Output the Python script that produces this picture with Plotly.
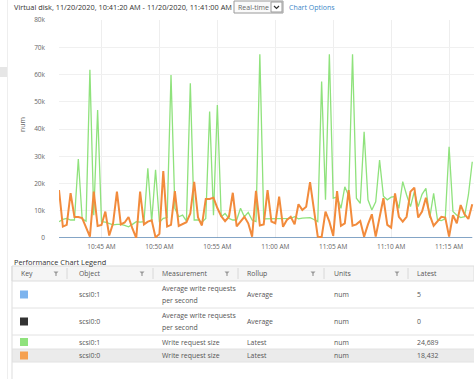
import pandas as pd
import plotly.graph_objects as go

# ---------------- data ----------------
START = "2020-11-20 10:41:20"
STEP = "20s"

# scsi0:0 Write request size (orange), values in thousands of num
orange_k = [17.6, 4.2, 4.8, 16.5, 7.7, 7.7, 7.3, 4.0, 0.5, 17.0,
            4.4, 4.8, 9.7, 0.9, 5.4, 17.0, 5.0, 5.7, 7.7, 3.5,
            0.0, 17.0, 5.0, 6.0, 6.5, 0.2, 1.5, 24.6, 4.2, 4.8,
            17.2, 4.4, 5.2, 5.8, 9.0, 20.6, 7.5, 4.6, 14.3, 14.3,
            14.8, 11.0, 8.0, 6.2, 7.8, 16.6, 4.3, 6.2, 7.8, 5.4,
            0.5, 17.3, 4.6, 5.0, 17.6, 6.0, 5.4, 15.2, 4.1, 6.6,
            7.8, 5.0, 12.4, 10.3, 11.5, 20.5, 9.7, 0.5, 0.3, 9.7,
            6.0, 0.8, 17.2, 4.5, 5.4, 17.6, 4.5, 5.0, 6.2, 0.5,
            5.0, 8.7, 0.5, 7.2, 14.6, 4.8, 3.8, 16.4, 7.8, 6.0,
            7.8, 17.0, 18.5, 7.5, 9.7, 14.8, 8.4, 4.5, 6.0, 7.8,
            7.5, 0.5, 8.4, 5.4, 12.1, 8.7, 7.0, 12.4]

# scsi0:1 Write request size (green), thousands
green_k = [6.0, 6.8, 7.2, 6.6, 6.6, 29.0, 7.0, 6.2, 61.7, 8.4,
           47.0, 6.0, 5.8, 5.4, 4.8, 5.0, 5.0, 4.6, 4.1, 5.0,
           6.0, 5.8, 6.0, 25.6, 6.0, 25.0, 5.8, 7.2, 7.5, 59.8,
           10.9, 7.8, 8.4, 6.2, 56.8, 6.6, 6.6, 5.8, 7.2, 46.4,
           8.4, 48.8, 7.8, 9.0, 7.2, 6.6, 6.6, 10.9, 7.8, 9.4,
           6.6, 6.0, 67.4, 7.0, 7.0, 7.0, 7.0, 7.0, 7.0, 7.0,
           7.2, 7.8, 7.0, 7.3, 7.5, 7.5, 6.8, 6.0, 57.4, 14.0,
           67.4, 14.6, 15.0, 10.9, 18.8, 15.5, 67.4, 14.6, 12.7, 39.0,
           14.0, 10.3, 13.3, 28.6, 15.3, 14.0, 15.0, 15.2, 10.9, 20.7,
           15.8, 11.5, 17.0, 11.5, 16.0, 18.2, 7.5, 16.4, 6.6, 6.4,
           7.0, 33.5, 9.7, 8.4, 7.5, 7.8, 15.8, 28.0]

# scsi0:1 Average write requests per second (blue)
blue = [5, 4, 6, 5, 5, 6, 4, 5, 7, 5, 6, 4, 5, 5, 4, 6, 5, 5, 4, 5,
        5, 6, 4, 6, 5, 6, 5, 5, 4, 7, 5, 5, 4, 5, 7, 5, 5, 4, 5, 6,
        5, 6, 5, 5, 4, 5, 5, 5, 4, 5, 5, 4, 7, 5, 5, 4, 5, 5, 4, 5,
        5, 5, 5, 4, 5, 5, 5, 4, 7, 5, 7, 5, 5, 4, 5, 5, 7, 5, 5, 6,
        5, 4, 5, 6, 5, 5, 5, 5, 4, 6, 5, 5, 5, 4, 5, 5, 4, 5, 4, 5,
        5, 6, 5, 5, 4, 5, 5, 5]

# scsi0:0 Average write requests per second (dark)
dark = [0, 0, 0, 0, 0, 0, 0, 0, 0, 0, 0, 0, 0, 0, 0, 0, 0, 0, 0, 0,
        0, 0, 0, 0, 0, 0, 0, 0, 0, 0, 0, 0, 0, 0, 0, 0, 0, 0, 0, 0,
        0, 0, 0, 0, 0, 0, 0, 0, 0, 0, 0, 0, 0, 0, 0, 0, 0, 0, 0, 0,
        0, 0, 0, 0, 0, 0, 0, 0, 0, 0, 0, 0, 0, 0, 0, 0, 0, 0, 0, 0,
        0, 0, 0, 0, 0, 0, 0, 0, 0, 0, 0, 0, 0, 0, 0, 0, 0, 0, 0, 0,
        0, 0, 0, 0, 0, 0, 0, 0]

y_tickvals = [0, 10000, 20000, 30000, 40000, 50000, 60000, 70000, 80000]
y_ticktext = ["0", "10k", "20k", "30k", "40k", "50k", "60k", "70k", "80k"]
x_range = ["2020-11-20 10:41:20", "2020-11-20 11:17:09"]

title_text = "Virtual disk, 11/20/2020, 10:41:20 AM - 11/20/2020, 11:41:00 AM"
legend_title = "Performance Chart Legend"
col_headers = ["Key", "Object", "Measurement", "Rollup", "Units", "Latest"]
row_colors = ["#7db4ee", "#333333", "#8fe27c", "#f5a04f"]
row_objects = ["scsi0:1", "scsi0:0", "scsi0:1", "scsi0:0"]
row_measure = [["Average write requests", "per second"], ["Average write requests", "per second"],
               ["Write request size"], ["Write request size"]]
row_rollup = ["Average", "Average", "Latest", "Latest"]
row_units = ["num", "num", "num", "num"]
row_latest = ["5", "0", "24,689", "18,432"]

# ---------------- figure ----------------
W, H = 474, 379
PL, PR, PT, PB = 59, 474, 20, 238
FONT = "Open Sans"
TFS = 6.9


def px(x):
    return (x - PL) / (PR - PL)


def py(y):
    return (PB - y) / (PB - PT)


times = pd.date_range(START, periods=len(orange_k), freq=STEP)

fig = go.Figure()
fig.add_trace(go.Scatter(x=times, y=blue, mode="lines",
                         line=dict(color="#7db4ee", width=1.6), name="blue"))
fig.add_trace(go.Scatter(x=times, y=dark, mode="lines", opacity=0.45,
                         line=dict(color="#333333", width=1.2), name="dark"))
fig.add_trace(go.Scatter(x=times, y=[v * 1000 for v in green_k], mode="lines",
                         line=dict(color="#8fe27c", width=1.3), name="green"))
fig.add_trace(go.Scatter(x=times, y=[v * 1000 for v in orange_k], mode="lines",
                         line=dict(color="#f28b3c", width=2), name="orange"))

shapes = []
ann = []


def text(t, x, y, size=TFS, color="#555555", **kw):
    ann.append(dict(text=t, x=px(x), y=py(y), xref="paper", yref="paper",
                    xanchor=kw.pop("xanchor", "left"), yanchor="middle", showarrow=False,
                    font=dict(family=FONT, size=size, color=color), **kw))


# left page stub
shapes.append(dict(type="line", xref="paper", yref="paper", x0=px(7.5), x1=px(7.5),
                   y0=py(0), y1=py(379), line=dict(color="#eeeeee", width=1), layer="below"))
shapes.append(dict(type="rect", xref="paper", yref="paper", x0=px(0), x1=px(7),
                   y0=py(67), y1=py(77), fillcolor="#e6e6e6", line=dict(width=0), layer="below"))

# header text and controls
text(title_text, 12, 7, size=7.35, color="#333333")
shapes.append(dict(type="rect", xref="paper", yref="paper", x0=px(234), x1=px(283),
                   y0=py(1), y1=py(13), fillcolor="#fafafa", line=dict(color="#9a9a9a", width=1)))
shapes.append(dict(type="rect", xref="paper", yref="paper", x0=px(271), x1=px(282),
                   y0=py(2), y1=py(12), fillcolor="#ffffff", line=dict(color="#9a9a9a", width=1)))
shapes.append(dict(type="path", xref="paper", yref="paper",
                   path=f"M {px(274)} {py(6)} L {px(276.5)} {py(8.5)} L {px(279)} {py(6)}",
                   line=dict(color="#333333", width=1.2)))
text("Real-time", 236, 7, size=7, color="#666666")
text("Chart Options", 287, 7, size=7, color="#3c87c7")

# y-axis title
text("num", 22, 125, size=7, color="#666666", xanchor="center", textangle=-90)

# legend table
text(legend_title, 12, 262, size=7.35, color="#333333")

col_x = [12, 67, 153, 238, 324, 408]
col_text_x = [19, 77, 160, 245, 332, 415]
head_top, head_bot = 266, 281
row_bounds = [(281, 308), (308, 335), (335, 349), (349, 362)]

shapes.append(dict(type="rect", xref="paper", yref="paper", x0=px(12), x1=px(474),
                   y0=py(head_top), y1=py(head_bot), fillcolor="#f5f5f5",
                   line=dict(color="#dddddd", width=1)))
for i, cx in enumerate(col_x[1:]):
    shapes.append(dict(type="line", xref="paper", yref="paper", x0=px(cx), x1=px(cx),
                       y0=py(head_top + 2), y1=py(head_bot - 2),
                       line=dict(color="#d8d8d8", width=1)))
for i, h in enumerate(col_headers):
    text(h, col_text_x[i], (head_top + head_bot) / 2)
    if i < len(col_headers) - 1:
        fx = col_x[i + 1] - 11
        fy = (head_top + head_bot) / 2
        shapes.append(dict(type="path", xref="paper", yref="paper",
                           path=(f"M {px(fx - 2.5)} {py(fy - 2)} L {px(fx + 2.5)} {py(fy - 2)} "
                                 f"L {px(fx + 0.6)} {py(fy)} L {px(fx + 0.6)} {py(fy + 2.5)} "
                                 f"L {px(fx - 0.6)} {py(fy + 2.5)} L {px(fx - 0.6)} {py(fy)} Z"),
                           fillcolor="#999999", line=dict(width=0)))

# table left border
shapes.append(dict(type="line", xref="paper", yref="paper", x0=px(12), x1=px(12),
                   y0=py(head_top), y1=py(379), line=dict(color="#dddddd", width=1)))

for r, (top, bot) in enumerate(row_bounds):
    if r == 3:
        shapes.append(dict(type="rect", xref="paper", yref="paper", x0=px(12), x1=px(474),
                           y0=py(top), y1=py(bot), fillcolor="#ebebeb", line=dict(width=0),
                           layer="below"))
    shapes.append(dict(type="line", xref="paper", yref="paper", x0=px(12), x1=px(474),
                       y0=py(bot), y1=py(bot), line=dict(color="#e2e2e2", width=1)))
    cy = (top + bot) / 2
    shapes.append(dict(type="rect", xref="paper", yref="paper", x0=px(20), x1=px(28),
                       y0=py(cy - 4), y1=py(cy + 4), fillcolor=row_colors[r],
                       line=dict(width=0)))
    text(row_objects[r], col_text_x[1], cy)
    lines = row_measure[r]
    if len(lines) == 2:
        text(lines[0], col_text_x[2], cy - 6.3)
        text(lines[1], col_text_x[2], cy + 6.3)
    else:
        text(lines[0], col_text_x[2], cy)
    text(row_rollup[r], col_text_x[3], cy)
    text(row_units[r], col_text_x[4], cy)
    text(row_latest[r], col_text_x[5], cy)

fig.update_layout(
    width=W, height=H,
    margin=dict(l=PL, r=W - PR, t=PT, b=H - PB, pad=0),
    paper_bgcolor="white", plot_bgcolor="white",
    showlegend=False,
    font=dict(family=FONT, size=7, color="#666666"),
    shapes=shapes, annotations=ann,
    xaxis=dict(type="date", range=x_range, tickformat="%I:%M %p", dtick=300000,
               tick0="2020-11-20 10:45:00", showgrid=True, gridcolor="#eeeeee", gridwidth=1,
               zeroline=False, showline=False,
               ticks="", tickfont=dict(family=FONT, size=6.5, color="#666666"),
               ticklabelstandoff=3, fixedrange=True),
    yaxis=dict(range=[0, 80000], tickvals=y_tickvals, ticktext=y_ticktext,
               showgrid=True, gridcolor="#f0f0f0", gridwidth=1, zeroline=False,
               showline=False, ticks="", ticklabelstandoff=13,
               tickfont=dict(family=FONT, size=6.5, color="#666666"), fixedrange=True),
)

fig.write_html("out.html", config={"displayModeBar": False},
               post_script="document.body.style.margin='0';document.body.style.padding='0';")
